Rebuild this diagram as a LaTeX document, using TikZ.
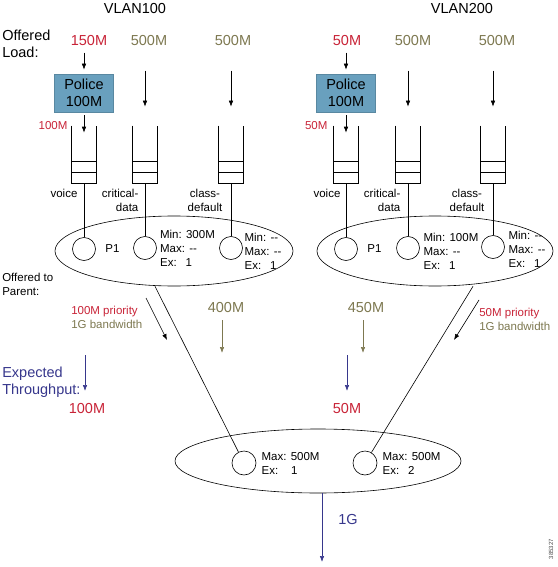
\documentclass[tikz,border=0pt]{standalone}
\usepackage{fontspec}
\setmainfont{Liberation Sans}
\usepackage{tikz}
\usetikzlibrary{arrows.meta}
\usetikzlibrary{positioning}
\usetikzlibrary{shapes}
\usetikzlibrary{calc}
\definecolor{loadred}{RGB}{200,35,55}
\definecolor{loadolive}{RGB}{125,120,80}
\definecolor{thrublue}{RGB}{55,55,140}
\definecolor{policeblue}{RGB}{105,160,190}
\tikzstyle{sched}=[draw,circle,minimum size=23pt,inner sep=0pt]
\tikzstyle{policer}=[fill=policeblue,draw=policeblue!85!black,minimum width=59pt,minimum height=38pt,align=center,inner sep=0pt]
\newcommand{\dsh}{-{}-}

\begin{document}
\begin{tikzpicture}[
  x=1pt,y=-1pt,
  line width=0.6pt,
  largetxt/.style={font=\fontsize{14.5}{17}\selectfont},
  smalltxt/.style={font=\fontsize{11.5}{14}\selectfont},
  arr/.style={-{Latex[length=6pt,width=4.5pt]}},
  queue/.style={minimum width=24pt,minimum height=57pt,inner sep=0pt},
  group/.style={draw,ellipse,inner sep=0pt},
  stats/.style={smalltxt,align=left,inner sep=0pt},
]
\useasboundingbox (0,0) rectangle (557,567);

% titles and offered load
\node[largetxt] (vlanA) at (135,9) {VLAN100};
\node[largetxt] (vlanB) at (462,9) {VLAN200};
\node[largetxt,align=left,anchor=west,inner sep=0pt] (offered) at (2,44) {Offered\\Load:};
\foreach \n/\x/\c/\t in {ldA1/89/loadred/150M, ldA2/149/loadolive/500M, ldA3/233/loadolive/500M,
                         ldB1/347/loadred/50M, ldB2/413/loadolive/500M, ldB3/497/loadolive/500M}
  \node[largetxt,text=\c] (\n) at (\x,41) {\t};

% queues
\foreach \n/\x in {qA1/84, qA2/145, qA3/231, qB1/346, qB2/408, qB3/493} {
  \node[queue] (\n) at (\x,154.5) {};
  \draw (\n.north west) -- (\n.south west) -- (\n.south east) -- (\n.north east);
  \draw ([yshift=22pt]\n.south west) -- ([yshift=22pt]\n.south east);
  \draw ([yshift=11pt]\n.south west) -- ([yshift=11pt]\n.south east);
}

% policers
\node[policer,largetxt] (polA) at (84,93) {Police\\100M};
\node[policer,largetxt] (polB) at (346,93) {Police\\100M};
\draw[arr] ([yshift=21pt]polA.north) -- ([yshift=4pt]polA.north);
\draw[arr] ([yshift=21pt]polB.north) -- ([yshift=4pt]polB.north);
\draw[arr,shorten <=3pt] (polA.south) -- ([yshift=-7pt]qA1.north);
\draw[arr,shorten <=3pt] (polB.south) -- ([yshift=-7pt]qB1.north);
\node[smalltxt,text=loadred,anchor=east,inner sep=0pt] (polAout) at ([xshift=-4pt]qA1.north west) {100M};
\node[smalltxt,text=loadred,anchor=east,inner sep=0pt] (polBout) at ([xshift=-6pt]qB1.north west) {50M};
\foreach \q in {qA2,qA3,qB2,qB3}
  \draw[arr] ([yshift=55pt]\q.north) -- ([yshift=19pt]\q.north);

% class labels
\node[smalltxt] (lvA) at (64,193) {voice};
\node[smalltxt,align=right,anchor=east] (lcA) at (142,200) {critical-\\data};
\node[smalltxt,align=center] (ldfA) at (205,200) {class-\\default};
\node[smalltxt] (lvB) at (327,193) {voice};
\node[smalltxt,align=right,anchor=east] (lcB) at (404,200) {critical-\\data};
\node[smalltxt,align=center] (ldfB) at (467,200) {class-\\default};

% child schedulers
\node[group,minimum width=238pt,minimum height=70pt] (elA) at (174,251) {};
\node[group,minimum width=236pt,minimum height=70pt] (elB) at (435,251) {};
\node[sched] (cA1) at (84,249) {};
\node[sched] (cA2) at (145,248) {};
\node[sched] (cA3) at (231,248) {};
\node[sched] (cB1) at (346,249) {};
\node[sched] (cB2) at (408,248) {};
\node[sched] (cB3) at (493,247) {};
\foreach \q/\c in {qA1/cA1, qA2/cA2, qA3/cA3, qB1/cB1, qB2/cB2, qB3/cB3}
  \draw (\q.south) -- (\c.north);
\node[smalltxt,right=6pt of cA1] (pA1) {P1};
\node[smalltxt,right=6pt of cB1] (pB1) {P1};
\node[stats,right=3pt of cA2] (stA2) {Min: 300M\\Max: \dsh\\Ex:\hspace{9pt}1};
\node[stats,right=1.5pt of cA3,yshift=-3pt] (stA3) {Min: \dsh\\Max: \dsh\\Ex:\hspace{9pt}1};
\node[stats,right=3.5pt of cB2,yshift=-3pt] (stB2) {Min: 100M\\Max: \dsh\\Ex:\hspace{9pt}1};
\node[stats,right=3.5pt of cB3,yshift=-2pt] (stB3) {Min: \dsh\\Max: \dsh\\Ex:\hspace{9pt}1};
\node[smalltxt,align=left,anchor=west,inner sep=0pt] (offpar) at (2,284) {Offered to\\Parent:};

% parent scheduler
\node[group,minimum width=286pt,minimum height=64pt] (elP) at (318,461) {};
\node[sched,minimum size=24pt] (pA) at (244,463) {};
\node[sched,minimum size=24pt] (pB) at (365,463) {};
\node[stats,right=5pt of pA] (stPA) {Max: 500M\\Ex:\hspace{13pt}1};
\node[stats,right=5pt of pB] (stPB) {Max: 500M\\Ex:\hspace{9pt}2};
\draw ([xshift=-19pt]elA.south) -- (pA);
\draw ([xshift=38pt]elB.south) -- (pB);

% offered to parent
\node[stats,anchor=west] (prA) at (71,317) {\textcolor{loadred}{100M priority}\\\textcolor{loadolive}{1G bandwidth}};
\node[stats,anchor=west] (prB) at (479,319) {\textcolor{loadred}{50M priority}\\\textcolor{loadolive}{1G bandwidth}};
\coordinate (prAs) at (146,298);
\coordinate (prAe) at (167,340);
\coordinate (prBs) at (479,300);
\coordinate (prBe) at (454,340);
\draw[arr] (prAs) -- (prAe);
\draw[arr] (prBs) -- (prBe);
\node[largetxt,text=loadolive] (bwA) at (226,308) {400M};
\node[largetxt,text=loadolive] (bwB) at (366,308) {450M};
\draw[arr,loadolive] ([xshift=-4pt,yshift=-12pt]bwA.center) -- ([xshift=-4pt,yshift=-45pt]bwA.center);
\draw[arr,loadolive] ([xshift=-3pt,yshift=-12pt]bwB.center) -- ([xshift=-3pt,yshift=-45pt]bwB.center);

% expected throughput
\node[largetxt,text=thrublue,align=left,anchor=west,inner sep=0pt] (expect) at (2,382) {Expected\\Throughput:};
\node[largetxt,text=loadred] (tpA) at (87,409) {100M};
\node[largetxt,text=loadred] (tpB) at (347,409) {50M};
\draw[arr,thrublue] ([xshift=-2pt,yshift=54pt]tpA.center) -- ([xshift=-2pt,yshift=18pt]tpA.center);
\draw[arr,thrublue] ([yshift=54pt]tpB.center) -- ([yshift=18pt]tpB.center);

% output
\coordinate (out) at (322,562);
\draw[arr,thrublue] (elP.south -| out) -- (out);
\node[largetxt,text=thrublue] (rate) at (348,520) {1G};
\node[rotate=90,font=\fontsize{6}{7}\selectfont,text=black!70] (figid) at (551,549) {385327};
\end{tikzpicture}
\end{document}
